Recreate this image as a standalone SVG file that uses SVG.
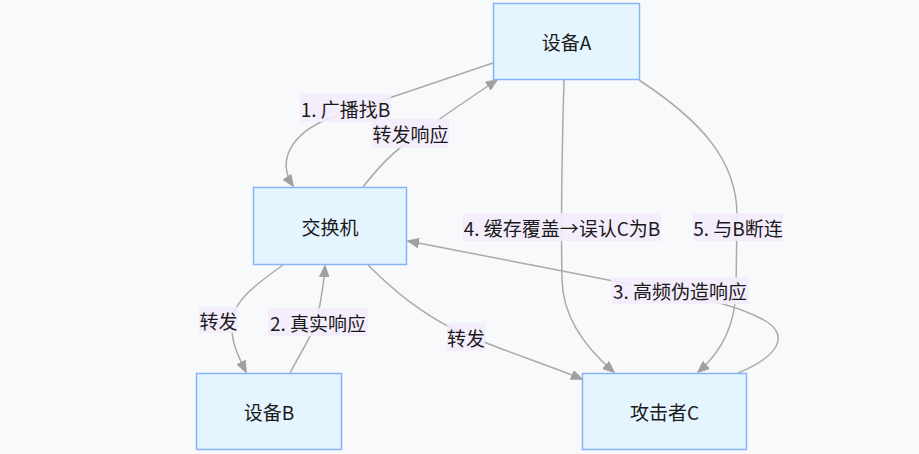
<svg xmlns="http://www.w3.org/2000/svg" width="919" height="454" viewBox="0 0 919 454">
<style>
.node rect{fill:#e4f5ff;stroke:#86b4f6;stroke-width:1.5}
.t{font-family:"Noto Sans CJK SC","Noto Sans",sans-serif;font-size:19px;fill:#1a1a1a;text-anchor:middle;dominant-baseline:central}
.e{fill:none;stroke:#aaaaaa;stroke-width:1.5}
.lb{fill:#f3ebfb;opacity:0.9}
</style>
<defs>
<marker id="ah" viewBox="0 0 12 10" refX="11" refY="5" markerWidth="12" markerHeight="10" markerUnits="userSpaceOnUse" orient="auto">
<path d="M0,0 L12,5 L0,10 z" fill="#a0a0a0" stroke="#999" stroke-width="0.5"/>
</marker>
</defs>
<rect width="919" height="454" fill="#f8f9fb"/>
<g id="connectors">
<path class="e" d="M493,63 C430,84 370,104 330,118 C292,133 276,160 293,186" marker-end="url(#ah)"/>
<path class="e" d="M363,187 C380,165 395,150 412,139 C440,118 470,98 497,80" marker-end="url(#ah)"/>
<path class="e" d="M283,265 C255,285 235,300 232,320 C230,340 238,356 246,372" marker-end="url(#ah)"/>
<path class="e" d="M290,373 C305,345 315,330 318,315 C322,295 324,282 325,266" marker-end="url(#ah)"/>
<path class="e" d="M368,265 C395,292 420,312 455,330 C500,350 545,364 582,379" marker-end="url(#ah)"/>
<path class="e" d="M738,373 C775,358 795,335 760,318 C740,308 720,302 690,296 C600,278 500,259 408,241" marker-end="url(#ah)"/>
<path class="e" d="M564,80 C562,150 561,230 562,280 C563,320 588,350 614,372" marker-end="url(#ah)"/>
<path class="e" d="M639,80 C700,120 737,160 737,215 L736,290 C735,330 718,355 698,372" marker-end="url(#ah)"/>
</g>
<g id="edge-labels">
<rect class="lb" x="300" y="94" width="91" height="28"/><text class="t" x="345.5" y="108">1. 广播找B</text>
<rect class="lb" x="372" y="119" width="77" height="29"/><text class="t" x="410.5" y="133.5">转发响应</text>
<rect class="lb" x="199" y="307" width="39" height="26"/><text class="t" x="218.5" y="320">转发</text>
<rect class="lb" x="268" y="308" width="100" height="28"/><text class="t" x="318" y="322">2. 真实响应</text>
<rect class="lb" x="447" y="323" width="38" height="28"/><text class="t" x="466" y="337">转发</text>
<rect class="lb" x="611" y="277" width="138" height="27"/><text class="t" x="680" y="290.5">3. 高频伪造响应</text>
<rect class="lb" x="463" y="213" width="198" height="28"/><text class="t" x="562" y="227">4. 缓存覆盖→误认C为B</text>
<rect class="lb" x="693" y="213" width="90" height="28"/><text class="t" x="738" y="227">5. 与B断连</text>
</g>
<g id="node-A" class="node"><rect x="493.5" y="3.5" width="146" height="76"/><text class="t" x="566.5" y="41.5">设备A</text></g>
<g id="node-switch" class="node"><rect x="253.5" y="187.5" width="153" height="77"/><text class="t" x="330" y="226">交换机</text></g>
<g id="node-B" class="node"><rect x="196.5" y="373.5" width="145" height="76"/><text class="t" x="269" y="411.5">设备B</text></g>
<g id="node-C" class="node"><rect x="582.5" y="373.5" width="164" height="76"/><text class="t" x="664.5" y="411.5">攻击者C</text></g>
</svg>
